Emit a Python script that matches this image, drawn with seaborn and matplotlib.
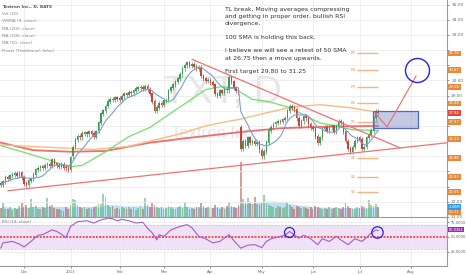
import numpy as np
import pandas as pd
import matplotlib
matplotlib.use("Agg")
import matplotlib.pyplot as plt
import matplotlib.transforms as mtransforms
from matplotlib.patches import Rectangle
import seaborn as sns

# ---------------- data ----------------
closes = [
    23.1, 23.3, 23.6, 23.5, 23.7, 23.8, 23.85, 23.7, 23.9, 23.6,
    23.2, 23.1, 23.4, 23.5, 23.8, 24.1, 24.2, 24.3, 24.25, 24.4,
    24.45, 24.35, 24.75, 24.5, 24.4, 24.3, 24.45, 24.25, 24.2, 24.1,
    24.9, 25.6, 26.1, 26.3, 26.25, 26.5, 26.55, 26.45, 26.6, 26.5,
    26.3, 26.6, 27.2, 27.8, 28.0, 28.3, 28.6, 28.75, 28.7, 28.85,
    28.8, 28.7, 28.95, 29.1, 29.05, 29.2, 29.15, 29.3, 29.45, 29.5,
    29.55, 29.45, 29.6, 29.4, 29.1, 28.6, 28.0, 28.2, 28.5, 28.4,
    28.65, 28.7, 29.3, 29.5, 29.7, 29.9, 30.1, 30.4, 30.8, 31.0,
    31.15, 30.95, 31.05, 30.9, 30.75, 30.85, 30.3, 30.1, 29.95, 30.0,
    29.85, 29.7, 29.1, 29.0, 29.3, 29.2, 29.4, 29.35, 30.2, 29.9,
    29.5, 29.3, 29.2, 25.5, 26.0, 25.7, 26.2, 25.9, 26.0, 25.8,
    25.9, 25.4, 25.0, 25.3, 25.9, 26.7, 26.9, 27.1, 27.2, 27.3,
    27.25, 27.4, 27.5, 28.0, 28.3, 28.2, 28.1, 27.5, 27.0, 27.3,
    27.6, 27.5, 27.1, 26.9, 26.8, 26.3, 25.9, 26.2, 26.8, 26.9,
    26.7, 26.9, 27.0, 26.6, 27.0, 27.3, 27.2, 26.6, 26.0, 25.5,
    25.3, 25.6, 26.0, 26.2, 26.1, 25.5, 25.6, 26.2, 26.4, 26.7,
    27.5, 27.95, 27.84,
]
first_open = 23.2
gap_open_idx = [31, 42, 103]
gap_open_val = [25.0, 26.7, 26.9]
wick = 0.15

volume_m = [
    2.2, 3.3, 2.0, 1.8, 2.4, 1.6, 2.1, 1.9, 2.6, 3.3,
    2.5, 2.8, 2.2, 4.3, 2.4, 2.7, 2.0, 1.9, 2.3, 2.1,
    4.5, 2.6, 2.9, 2.2, 1.8, 2.0, 1.7, 1.5, 2.3, 1.9,
    2.8, 4.3, 4.0, 2.9, 2.4, 2.1, 2.5, 1.9, 2.2, 2.0,
    2.4, 2.7, 3.0, 3.2, 5.5, 4.8, 2.9, 2.3, 2.6, 2.0,
    2.2, 1.9, 2.4, 2.1, 1.8, 2.3, 2.0, 2.5, 1.7, 2.2,
    2.6, 2.0, 4.5, 2.8, 2.4, 3.3, 2.9, 2.5, 2.1, 2.3,
    1.9, 2.2, 2.7, 2.4, 2.0, 1.8, 2.3, 2.6, 2.1, 3.5,
    2.4, 2.0, 2.2, 1.9, 2.5, 2.3, 3.4, 2.6, 2.1, 2.4,
    1.9, 2.2, 2.8, 2.5, 2.0, 2.3, 1.8, 2.6, 3.5, 2.7,
    2.4, 2.1, 2.9, 13.0, 4.4, 3.6, 4.6, 3.4, 3.0, 4.8,
    3.1, 2.8, 3.5, 5.2, 3.3, 2.9, 2.6, 2.4, 2.2, 2.7,
    2.3, 2.1, 2.5, 3.6, 2.8, 2.4, 2.0, 2.6, 2.3, 2.1,
    2.5, 2.2, 1.9, 2.4, 2.0, 2.7, 2.3, 2.1, 1.8, 2.2,
    2.0, 2.4, 1.9, 2.2, 2.5, 2.1, 1.8, 2.3, 3.3, 2.6,
    2.2, 2.0, 1.9, 2.4, 2.1, 2.6, 2.3, 2.0, 4.0, 2.8,
    2.6, 3.0, 2.4,
]

month_idx = [10, 30, 51, 70, 90, 112, 134, 154, 176]
month_lbl = ["Dec", "2013", "Feb", "Mar", "Apr", "May", "Jun", "Jul", "Aug"]

ma200_idx = [0, 14, 30, 45, 64, 80, 103, 120, 140, 162]
ma200_val = [25.9, 25.4, 25.3, 25.35, 25.9, 26.2, 26.6, 26.85, 26.95, 27.0]
ma100_idx = [0, 20, 40, 55, 64, 75, 88, 94, 103, 115, 125, 137, 150, 162]
ma100_val = [25.75, 25.6, 25.45, 25.65, 26.0, 26.4, 27.0, 27.2, 27.45, 27.9, 28.25, 28.4, 28.2, 27.9]
ma50_idx = [0, 7, 20, 29, 35, 45, 55, 64, 77, 88, 95, 100, 108, 115, 123, 137, 151, 162]
ma50_val = [25.7, 25.4, 24.8, 24.3, 24.4, 25.3, 26.3, 26.9, 28.26, 29.4, 29.6, 29.5, 28.75, 28.6, 28.26, 27.2, 26.75, 26.7]

rsi_idx = [0, 1, 5, 8, 10, 13, 16, 18, 22, 24, 26, 28, 30, 33, 37, 40, 43, 46, 48, 50,
           52, 55, 58, 61, 63, 65, 67, 68, 70, 73, 77, 80, 82, 85, 88, 91, 94, 98, 100, 103,
           106, 109, 112, 114, 116, 119, 122, 124, 126, 128, 130, 133, 136, 138, 141, 144, 146,
           149, 152, 155, 157, 159, 161, 162]
rsi_val = [31, 40, 42.5, 38, 33, 42.5, 53, 54, 62, 59.5, 55, 49, 68, 76, 77.6, 73.7, 79, 82, 81, 77.6,
           80, 77.6, 73.7, 75, 65, 57, 45, 54, 51, 62, 68, 71, 66, 51, 47, 40, 42.5, 54, 44, 31,
           36, 37, 32, 42.5, 47, 50, 53, 59.5, 53, 48, 53, 47, 37, 47, 42.5, 51, 45,
           37, 47, 42.5, 49, 57, 62, 60.9]
rsi_last = 60.9364
rsi_ticks = [25, 50, 75]
rsi_circle_idx = [123.7, 161.5]
rsi_circle_val = [59.0, 58.5]

pivot_names = ["R5", "R4", "R3", "R2", "R1", "S1", "S2", "S3"]
pivot_vals = [31.78, 30.67, 29.58, 28.48, 27.27, 24.88, 23.63, 22.65]
pivot_start, pivot_end, pivot_label_at = 153.0, 161.8, 151.3
axis_orange_labels = [31.78, 30.67, 29.58, 28.48, 27.27, 26.13, 24.88, 23.63, 22.65, 20.31]
last_price = 27.84
vol_label = 2.40
price_ticks = list(range(21, 36))

tl_down_idx = [82, 171.5]
tl_down_val = [31.4, 25.55]
tl_up_idx = [3.1, 191.5]
tl_up_val = [22.73, 25.89]
proj_idx = [160.6, 165.8, 178.2]
proj_val = [27.86, 26.94, 30.29]
target_idx, target_val = 178.7, 30.69
box_idx = [159.8, 179.1]
box_val = [26.85, 27.99]

notes = [
    ("TL break, Moving averages compressing", 9.3),
    ("and getting in proper order, bullish RSI", 16.3),
    ("divergence,", 23.3),
    ("100 SMA is holding this back.", 37.3),
    ("I believe we will see a retest of 50 SMA", 51.0),
    ("at 26.75 then a move upwards.", 58.3),
    ("First target 29.80 to 31.25", 71.7),
]
legend_lines = [
    ("Textron Inc., D, BATS", 6.7, True),
    ("Vol (20)", 14.0, False),
    ("VWMA (9, close)", 21.3, False),
    ("MA (200, close)", 28.7, False),
    ("MA (100, close)", 36.0, False),
    ("MA (50, close)", 43.3, False),
    ("Pivots (Traditional, false)", 51.0, False),
]

# ---------------- derived series ----------------
n = len(closes)
idx = np.arange(n)
c = np.array(closes)
o = np.r_[first_open, c[:-1]]
for k, v in zip(gap_open_idx, gap_open_val):
    o[k] = v
hi = np.maximum(o, c) + wick
lo = np.minimum(o, c) - wick
up = c >= o
vol = np.array(volume_m)
df = pd.DataFrame({"i": idx, "close": c, "vol": vol})
df["vwma"] = (df.close * df.vol).rolling(9, min_periods=1).sum() / df.vol.rolling(9, min_periods=1).sum()
df["volma"] = df.vol.rolling(20, min_periods=1).mean()

# ---------------- figure ----------------
sns.set_theme(style="white")
plt.rcParams["font.family"] = ["DejaVu Sans"]

W, H = 466, 275
fig = plt.figure(figsize=(W / 100, H / 100), dpi=100, facecolor="white")
ax = fig.add_axes([0, 1 - 217 / H, 447 / W, 217 / H])
ax_rsi = fig.add_axes([0, 1 - 266 / H, 447 / W, 48 / H], sharex=ax)
ax_vol = ax.twinx()
ax_vol.set_zorder(0)
ax.set_zorder(1)
ax.patch.set_visible(False)

XMIN, XMAX = -0.3, 191.5
ax.set_xlim(XMIN, XMAX)
ax.set_ylim(21.02, 35.30)
ax_vol.set_ylim(0, 51.7)
ax_rsi.set_ylim(0.7, 82.3)

grid_c = "#ececec"
axis_c = "#9a9a9a"
txt_c = "#666666"

# watermark (bottom layer)
ax_vol.text(222 / W, 1 - 93 / H, "TXT, D", transform=fig.transFigure, fontsize=28,
            color="#e6e6e6", ha="center", va="center", zorder=0, family="Liberation Sans")
ax_vol.text(214 / W, 1 - 134 / H, "Textron Inc.", transform=fig.transFigure, fontsize=12,
            color="#e6e6e6", ha="center", va="center", zorder=0, family="Liberation Sans")

# volume
ax_vol.fill_between(idx, 0, df["volma"], color="#b5daf5", alpha=0.85, lw=0, zorder=1)
vcol = np.where(up, "#52ad6c", "#b8504c")
ax_vol.bar(idx, vol, width=0.75, color=vcol, alpha=0.55, lw=0, zorder=2)
ax_vol.set_yticks([])
for s in ax_vol.spines.values():
    s.set_visible(False)

# price ticks (labels hidden where a value box covers them)
box_vals = axis_orange_labels + [last_price]
ax.set_yticks(price_ticks)
ax.set_yticklabels([("" if min(abs(t - b) for b in box_vals) < 0.4 else f"{t:.2f}") for t in price_ticks])
ax.yaxis.tick_right()
ax.tick_params(axis="y", labelsize=3.1, colors=txt_c, length=1.5, pad=1.5, width=0.5)
ax.set_xticks(month_idx)
ax.tick_params(axis="x", bottom=False, labelbottom=False)
ax.grid(True, color=grid_c, lw=0.6, zorder=0)
ax.set_axisbelow(True)
for s in ["left", "top"]:
    ax.spines[s].set_visible(False)
for s in ["right", "bottom"]:
    ax.spines[s].set_color(axis_c)
    ax.spines[s].set_linewidth(0.8)

# moving averages
sns.lineplot(x=ma200_idx, y=ma200_val, ax=ax, color="#f26b6b", lw=1.3, zorder=3)
sns.lineplot(x=ma100_idx, y=ma100_val, ax=ax, color="#f7bd80", lw=1.0, zorder=3)
sns.lineplot(x=ma50_idx, y=ma50_val, ax=ax, color="#6fe06f", lw=0.9, zorder=3)

# candles
ccol = np.where(up, "#3f9a55", "#c8443c")
ax.vlines(idx, lo, hi, color=ccol, lw=0.5, zorder=4)
ax.bar(idx, np.abs(c - o) + 0.04, bottom=np.minimum(o, c), width=0.66, color=ccol, lw=0, zorder=5)
sns.lineplot(data=df, x="i", y="vwma", ax=ax, color="#7c9fd2", lw=0.8, zorder=6)

# trend lines
ax.plot(tl_down_idx, tl_down_val, color="#f07272", lw=0.9, zorder=6)
ax.plot(tl_up_idx, tl_up_val, color="#f07272", lw=0.9, zorder=6)

# pivots
ax.hlines(pivot_vals, pivot_start, pivot_end, color="#f3b582", lw=1.0, zorder=6)
for nm, v in zip(pivot_names, pivot_vals):
    ax.text(pivot_label_at, v, nm, fontsize=2.8, color="#e39656", ha="center", va="center", zorder=7)

# projection
ax.add_patch(Rectangle((box_idx[0], box_val[0]), box_idx[1] - box_idx[0], box_val[1] - box_val[0],
                       facecolor=(0.45, 0.5, 0.75, 0.42), edgecolor="#5464d4", lw=0.9, zorder=7))
ax.plot(proj_idx, proj_val, color="#f06a6a", lw=0.8, zorder=8)
ax.plot([target_idx], [target_val], marker="o", ms=17.3, mfc="none", mec="#2424e0", mew=1.0, zorder=8)

# right-axis value boxes
def value_box(axis, y, text, color, size=2.7):
    tr = mtransforms.blended_transform_factory(axis.transAxes, axis.transData)
    axis.text(1 + 2 / 447, y, text, transform=tr, fontsize=size, color="white", ha="left", va="center",
              bbox=dict(boxstyle="square,pad=0.22", fc=color, ec="none"), clip_on=False, zorder=20)

ylow = ax.get_ylim()[0]
for v in axis_orange_labels:
    value_box(ax, max(v, ylow + 0.3), f"{v:.2f}", "#e8893a")
value_box(ax, last_price, f"{last_price:.2f}", "#e0473f")
value_box(ax_vol, vol_label, f"{vol_label:.2f}M", "#2d9cf0")

# ---------------- RSI ----------------
ax_rsi.axhspan(30, 70, color="#efe1f6", zorder=0, lw=0)
ax_rsi.axhline(70, color="#cdb8dc", lw=0.5, ls=(0, (3, 2)), zorder=1)
ax_rsi.axhline(30, color="#cdb8dc", lw=0.5, ls=(0, (3, 2)), zorder=1)
ax_rsi.axhline(50, color="#ff4a4a", lw=1.4, ls=(0, (1, 0.7)), zorder=2)
sns.lineplot(x=rsi_idx, y=rsi_val, ax=ax_rsi, color="#a45ccb", lw=0.8, zorder=3)
for xi, yv, msz in zip(rsi_circle_idx, rsi_circle_val, [7.2, 8.2]):
    ax_rsi.plot([xi], [yv], marker="o", ms=msz, mfc="none", mec="#2424e0", mew=0.9, zorder=4)
ax_rsi.set_yticks(rsi_ticks)
ax_rsi.set_yticklabels([f"{t:.4f}" for t in rsi_ticks])
ax_rsi.yaxis.tick_right()
ax_rsi.tick_params(axis="y", labelsize=2.6, colors=txt_c, length=1.5, pad=1.5, width=0.5)
ax_rsi.set_xticks(month_idx)
ax_rsi.set_xticklabels(month_lbl)
ax_rsi.tick_params(axis="x", labelsize=2.7, colors=txt_c, length=1.5, pad=1.2, width=0.5, bottom=True)
ax_rsi.grid(True, color=grid_c, lw=0.6, zorder=0)
ax_rsi.set_axisbelow(True)
ax_rsi.set_xlabel("")
ax_rsi.set_ylabel("")
ax.set_xlabel("")
ax.set_ylabel("")
ax_vol.set_ylabel("")
for s in ["left", "top"]:
    ax_rsi.spines[s].set_visible(False)
for s in ["right", "bottom"]:
    ax_rsi.spines[s].set_color(axis_c)
    ax_rsi.spines[s].set_linewidth(0.8)
value_box(ax_rsi, rsi_last + 1.5, f"{rsi_last:.4f}", "#9c2eb4", size=2.5)
ax_rsi.text(0.005, 1 - 4 / 48, "RSI (14, close)", transform=ax_rsi.transAxes, fontsize=3.0,
            color="#777777", ha="left", va="center")

# ---------------- texts ----------------
for s, ypx in notes:
    fig.text(225 / W, 1 - ypx / H, s, fontsize=4.4, color="#333333", ha="left", va="center")
for s, ypx, bold in legend_lines:
    fig.text(2.3 / W, 1 - ypx / H, s, fontsize=3.1, color="#555555" if bold else "#888888",
             fontweight="bold" if bold else "normal", ha="left", va="center")

fig.savefig("out.png", dpi=100, facecolor="white")
